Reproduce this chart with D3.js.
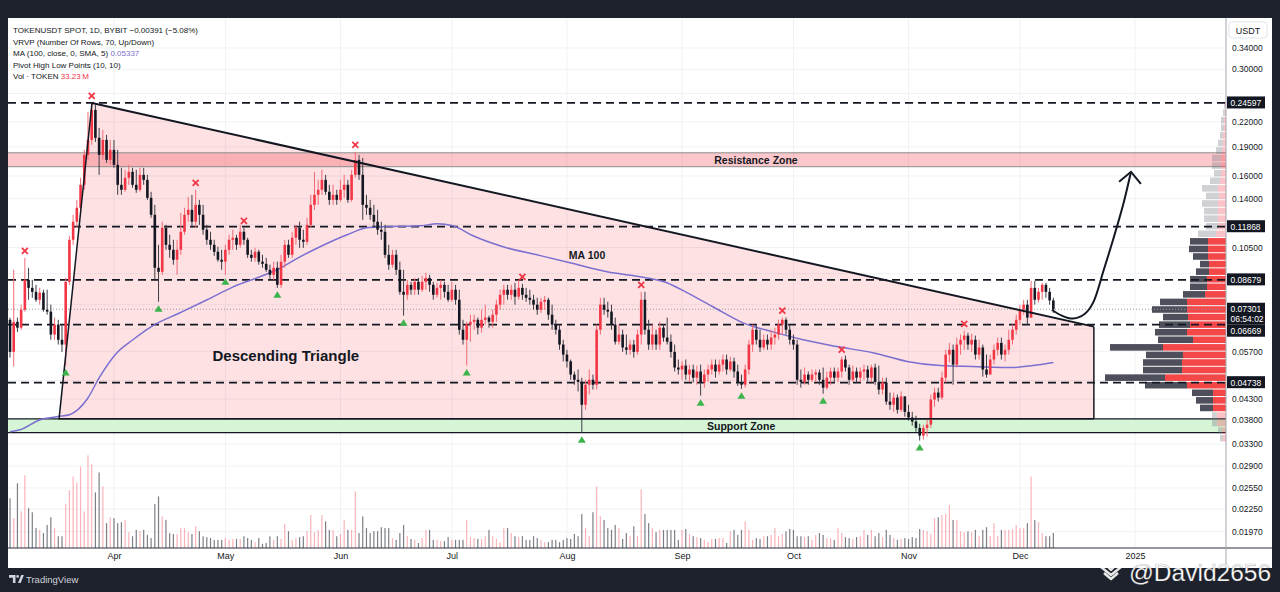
<!DOCTYPE html>
<html>
<head>
<meta charset="utf-8">
<script src="https://cdn.jsdelivr.net/npm/d3@7"></script>
<style>
  html, body { margin: 0; padding: 0; background: #1e222d; }
  svg { display: block; }
  text { font-family: "Liberation Sans", Arial, sans-serif; }
</style>
</head>
<body>
<svg id="chart" width="1280" height="592"></svg>
<script>
// ---- data (one candle per day from 2024-03-04) ----
const firstDay = "2024-03-04T00:00:00Z";
const firstOpen = 0.0686;

const closes = [
  .0568, .0678, .0655, .0728, .0868, .0828, .0809, .0772, .0805, .0728,
  .0720, .0629, .0667, .0610, .0593, .0858, .1099, .1222, .1327, .1519,
  .1812, .1979, .2361, .2003, .1812, .1979, .1759, .1866, .1709, .1519,
  .1475, .1583, .1640, .1519, .1475, .1611, .1564, .1407, .1273, .0932,
  .0910, .1179, .1067, .1036, .0977, .1036, .1152, .1273, .1311, .1222,
  .1350, .1273, .1166, .1099, .1067, .1024, .0977, .0966, .1036, .1099,
  .1112, .1067, .1152, .1099, .1006, .0988, .1024, .0966, .0954, .0921,
  .0894, .0932, .0843, .0966, .1067, .1006, .1112, .1179, .1099, .1086,
  .1200, .1350, .1432, .1475, .1564, .1458, .1390, .1432, .1390, .1475,
  .1519, .1390, .1611, .1759, .1611, .1350, .1327, .1273, .1222, .1166,
  .1152, .1006, .0949, .1006, .0921, .0809, .0795, .0843, .0819, .0858,
  .0819, .0858, .0878, .0843, .0795, .0828, .0843, .0809, .0772, .0819,
  .0772, .0647, .0610, .0667, .0678, .0686, .0655, .0686, .0695, .0678,
  .0707, .0750, .0795, .0819, .0795, .0819, .0786, .0828, .0795, .0781,
  .0772, .0750, .0728, .0763, .0772, .0707, .0667, .0647, .0593, .0559,
  .0537, .0497, .0482, .0476, .0416, .0468, .0482, .0468, .0647, .0750,
  .0728, .0720, .0667, .0603, .0629, .0583, .0575, .0593, .0568, .0629,
  .0772, .0647, .0593, .0629, .0593, .0655, .0618, .0603, .0568, .0518,
  .0512, .0524, .0497, .0512, .0488, .0506, .0474, .0497, .0512, .0527,
  .0506, .0527, .0543, .0512, .0537, .0506, .0474, .0468, .0512, .0593,
  .0647, .0610, .0583, .0610, .0593, .0618, .0629, .0667, .0686, .0647,
  .0610, .0593, .0482, .0476, .0497, .0482, .0497, .0503, .0482, .0460,
  .0488, .0506, .0488, .0506, .0543, .0518, .0482, .0506, .0488, .0506,
  .0512, .0488, .0518, .0476, .0455, .0474, .0424, .0416, .0434, .0404,
  .0437, .0399, .0386, .0377, .0363, .0347, .0363, .0370, .0429, .0447,
  .0434, .0488, .0559, .0575, .0527, .0593, .0610, .0625, .0593, .0610,
  .0559, .0583, .0512, .0497, .0543, .0575, .0599, .0559, .0575, .0610,
  .0647, .0686, .0728, .0750, .0695, .0828, .0772, .0809, .0843, .0809,
  .07692, .07301
];

const highs = [
  .0695, .0921, .0695, .0750, .0988, .0932, .0868, .0843, .0828, .0819,
  .0819, .0750, .0695, .0686, .0667, .0878, .1125, .1273, .1390, .1583,
  .1866, .2333, .24597, .2431, .2124, .2099, .2038, .1979, .1979, .1866,
  .1679, .1659, .1709, .1679, .1659, .1679, .1679, .1611, .1458, .1350,
  .1067, .1222, .1200, .1132, .1099, .1099, .1288, .1327, .1415, .1432,
  .1475, .1390, .1350, .1200, .1152, .1099, .1055, .1036, .1067, .1132,
  .1166, .1132, .1200, .1179, .1112, .1036, .1048, .1036, .1006, .0988,
  .0949, .0966, .0966, .1006, .1099, .1099, .1152, .1200, .1222, .1166,
  .1251, .1432, .1640, .1564, .1659, .1611, .1519, .1519, .1475, .1564,
  .1611, .1564, .1659, .1844, .1812, .1780, .1432, .1390, .1350, .1311,
  .1222, .1200, .1067, .1036, .1036, .0966, .0921, .0868, .0858, .0878,
  .0878, .0889, .0905, .0894, .0858, .0853, .0868, .0858, .0843, .0858,
  .0843, .0819, .0686, .0678, .0707, .0707, .0695, .0728, .0750, .0703,
  .0728, .0772, .0819, .0843, .0843, .0843, .0853, .0868, .0848, .0828,
  .0819, .0795, .0781, .0781, .0790, .0781, .0750, .0686, .0667, .0610,
  .0575, .0543, .0506, .0512, .0488, .0482, .0512, .0497, .0667, .0781,
  .0781, .0763, .0750, .0695, .0667, .0647, .0629, .0610, .0610, .0647,
  .0809, .0809, .0686, .0667, .0647, .0678, .0667, .0695, .0629, .0593,
  .0543, .0537, .0543, .0527, .0527, .0524, .0527, .0512, .0527, .0543,
  .0543, .0543, .0559, .0559, .0552, .0549, .0527, .0497, .0527, .0610,
  .0667, .0663, .0647, .0629, .0629, .0647, .0655, .0686, .0695, .0695,
  .0667, .0629, .0610, .0512, .0518, .0506, .0512, .0512, .0512, .0518,
  .0506, .0518, .0518, .0518, .0552, .0556, .0527, .0524, .0518, .0518,
  .0527, .0524, .0527, .0530, .0524, .0488, .0488, .0447, .0447, .0442,
  .0450, .0437, .0416, .0399, .0390, .0372, .0370, .0381, .0442, .0460,
  .0460, .0506, .0575, .0599, .0593, .0618, .0629, .0643, .0636, .0632,
  .0625, .0610, .0593, .0559, .0559, .0593, .0618, .0618, .0593, .0647,
  .0667, .0707, .0750, .0772, .0772, .0863, .0863, .0828, .0853, .0853,
  .0828, .0781
];

const lows = [
  .0549, .0521, .0639, .0647, .0720, .0772, .0781, .0763, .0750, .0720,
  .0707, .0610, .0610, .0593, .0568, .0524, .0843, .1067, .1179, .1281,
  .1475, .1759, .1922, .1956, .1611, .1759, .1728, .1709, .1679, .1432,
  .1432, .1458, .1519, .1493, .1449, .1458, .1519, .1390, .1251, .0868,
  .0763, .0894, .1036, .0988, .0949, .0894, .1006, .1132, .1222, .1179,
  .1179, .1200, .1132, .1067, .1036, .1000, .0966, .0921, .0894, .1006,
  .1036, .1036, .1048, .1067, .0988, .0966, .0966, .0949, .0932, .0910,
  .0868, .0868, .0828, .0828, .0932, .0988, .0988, .1067, .1048, .1048,
  .1067, .1179, .1311, .1350, .1432, .1432, .1350, .1350, .1350, .1374,
  .1407, .1366, .1374, .1583, .1564, .1236, .1273, .1236, .1179, .1132,
  .1099, .0988, .0921, .0932, .0894, .0795, .0703, .0772, .0795, .0795,
  .0795, .0809, .0819, .0809, .0772, .0781, .0772, .0781, .0763, .0763,
  .0750, .0629, .0593, .0524, .0603, .0647, .0629, .0636, .0667, .0655,
  .0655, .0678, .0728, .0750, .0772, .0772, .0750, .0772, .0772, .0763,
  .0750, .0728, .0707, .0715, .0728, .0686, .0647, .0629, .0575, .0537,
  .0518, .0482, .0468, .0450, .0353, .0404, .0442, .0455, .0455, .0629,
  .0707, .0695, .0647, .0593, .0593, .0568, .0559, .0559, .0549, .0559,
  .0593, .0629, .0575, .0575, .0575, .0575, .0603, .0593, .0549, .0506,
  .0497, .0482, .0482, .0476, .0474, .0468, .0439, .0460, .0476, .0497,
  .0488, .0497, .0506, .0497, .0506, .0488, .0465, .0457, .0460, .0497,
  .0568, .0593, .0568, .0575, .0575, .0575, .0593, .0610, .0629, .0629,
  .0593, .0575, .0468, .0460, .0468, .0468, .0476, .0476, .0468, .0444,
  .0455, .0468, .0476, .0476, .0488, .0506, .0468, .0476, .0474, .0476,
  .0482, .0474, .0476, .0468, .0442, .0442, .0416, .0404, .0399, .0395,
  .0399, .0388, .0379, .0368, .0355, .0337, .0339, .0345, .0363, .0411,
  .0424, .0429, .0474, .0534, .0468, .0518, .0559, .0575, .0575, .0568,
  .0543, .0543, .0491, .0488, .0497, .0527, .0556, .0543, .0537, .0559,
  .0593, .0629, .0667, .0707, .0667, .0695, .0750, .0759, .0772, .0781,
  .0750, .0715
];

// volume, millions of TOKEN
const volumes = [
  110, 66, 143, 81, 161, 88, 79, 44, 40, 33,
  51, 68, 44, 26, 26, 97, 128, 158, 145, 180,
  81, 205, 185, 123, 167, 136, 55, 68, 66, 55,
  57, 62, 35, 26, 40, 37, 40, 29, 22, 97,
  114, 70, 62, 33, 31, 31, 44, 44, 35, 31,
  48, 37, 26, 24, 22, 18, 18, 18, 22, 18,
  20, 20, 20, 26, 22, 18, 13, 22, 9, 11,
  26, 18, 26, 20, 53, 37, 18, 22, 24, 26,
  37, 73, 35, 40, 73, 59, 40, 40, 26, 31,
  62, 40, 40, 125, 33, 70, 44, 33, 37, 37,
  46, 44, 44, 22, 18, 33, 51, 26, 20, 18,
  11, 22, 40, 40, 18, 18, 15, 15, 24, 18,
  18, 18, 18, 62, 24, 22, 20, 20, 26, 40,
  26, 20, 13, 44, 44, 33, 26, 24, 26, 18,
  18, 26, 22, 18, 13, 13, 18, 18, 13, 18,
  22, 20, 31, 26, 75, 44, 26, 79, 136, 70,
  62, 44, 40, 51, 44, 20, 33, 26, 48, 26,
  130, 75, 55, 44, 35, 40, 40, 40, 40, 40,
  18, 40, 42, 31, 26, 24, 22, 18, 13, 20,
  20, 22, 22, 11, 37, 40, 29, 40, 59, 40,
  18, 22, 20, 26, 26, 29, 44, 26, 31, 37,
  42, 40, 26, 26, 24, 26, 18, 29, 33, 29,
  22, 22, 18, 44, 33, 24, 22, 20, 24, 26,
  40, 29, 40, 26, 33, 24, 40, 29, 22, 18,
  20, 22, 20, 24, 22, 42, 40, 37, 31, 66,
  68, 73, 75, 95, 62, 62, 37, 35, 37, 35,
  40, 26, 40, 46, 26, 55, 26, 40, 40, 40,
  42, 51, 44, 44, 55, 158, 62, 57, 33, 26,
  26, 33.23
];

// MA(100) read at points along the line: day offset from firstDay, value
const maDays = [0, 2.7, 8.1, 12.9, 16.2, 20.7, 24.2, 28.8, 33.1, 38.5, 45.8, 53.1, 60.1, 67.3, 71.9,
  78.1, 83.5, 90.8, 96.1, 100.5, 110.4, 115, 119.3, 124.7, 132.8, 141.9, 150.8, 160.8, 171.6, 176.9,
  182.3, 189.3, 197.4, 205.5, 213.6, 222.7, 232.4, 241.6, 250.5, 259.4, 270.1, 275.5, 281];
const maValues = [.0355, .0359, .0381, .0388, .0393, .0429, .0491, .0565, .0610, .0663, .0715, .0772, .0833, .0884, .0921,
  .0994, .1055, .1132, .1179, .1186, .1193, .1207, .1193, .1125, .1055, .1006, .0960, .0910, .0878, .0853,
  .0805, .0741, .0674, .0639, .0610, .0586, .0565, .0537, .0524, .0521, .0518, .0524, .05337];

// pivot high / low candles (index into the daily arrays)
const pivotHighIdx = [4, 22, 50, 63, 93, 138, 170, 208, 224, 257];
const pivotLowIdx = [15, 40, 58, 72, 106, 123, 154, 186, 197, 219, 245];

// visible range volume profile, 70 rows over the pane, bottom row first
const profileUp = [
  0, 0, 0, 0, 0, 0, 0, 0, 0, 0,
  0, 0, 0, 0, 3, 4, 9, 9, 13, 13,
  13, 39, 61, 44, 44, 43, 63, 33, 39, 36,
  38, 39, 39, 21, 19, 19, 17, 17, 18, 18,
  18, 10, 8, 8, 8, 8, 7, 8, 6, 5,
  5, 5, 4, 3, 3, 2, 2, 1, 1, 0,
  0, 0, 0, 0, 0, 0, 0, 0, 0, 0
];
const profileDown = [
  0, 0, 0, 0, 0, 0, 0, 0, 0, 0,
  0, 0, 0, 0, 3, 4, 5, 5, 13, 17,
  21, 42, 60, 39, 39, 37, 53, 35, 32, 31,
  25, 35, 27, 22, 17, 17, 13, 9, 15, 19,
  18, 18, 12, 14, 14, 16, 13, 16, 10, 7,
  9, 9, 6, 5, 3, 3, 3, 2, 1, 0,
  0, 0, 0, 0, 0, 0, 0, 0, 0, 0
];
const valueAreaRows = [18, 40];

const levels = [0.24597, 0.11868, 0.08679, 0.06669, 0.04738];
const lastPrice = 0.07301;
const countdown = "06:54:02";
const priceTicks = [0.34, 0.30, 0.26, 0.22, 0.19, 0.16, 0.14, 0.12, 0.105, 0.09, 0.075, 0.065,
  0.057, 0.048, 0.043, 0.038, 0.033, 0.029, 0.0255, 0.0225, 0.0197];

const resistanceZone = [0.1690, 0.1834];
const supportZone = [0.0353, 0.0383];
const triangle = [["2024-03-17T05:00:00Z", 0.0383], ["2024-03-26T02:00:00Z", 0.24597],
  ["2024-12-20T22:00:00Z", 0.0659], ["2024-12-20T22:00:00Z", 0.0383]];

const arrowPath = [["2024-12-09T14:00:00Z", .0728], ["2024-12-12T07:00:00Z", .0703], ["2024-12-15T07:00:00Z", .0691],
  ["2024-12-18T12:00:00Z", .0711], ["2024-12-20T17:00:00Z", .0759], ["2024-12-23T14:00:00Z", .0921],
  ["2024-12-26T02:00:00Z", .1099], ["2024-12-28T19:00:00Z", .1350], ["2024-12-30T22:00:00Z", .1640]];
const arrowHead = [["2024-12-27T17:00:00Z", .1546], ["2024-12-30T22:00:00Z", .1640], ["2025-01-02T14:00:00Z", .1528]];

const notes = [
  {text: "Descending Triangle", at: ["2024-05-17T07:00:00Z", .0556], size: 15},
  {text: "MA 100", at: ["2024-08-06T10:00:00Z", .1006], size: 10.5},
  {text: "Resistance Zone", at: ["2024-09-20T22:00:00Z", Math.sqrt(resistanceZone[0] * resistanceZone[1])], size: 10.5},
  {text: "Support Zone", at: ["2024-09-16T22:00:00Z", Math.sqrt(supportZone[0] * supportZone[1])], size: 10.5}
];

const legendLines = [
  [["TOKENUSDT SPOT, 1D, BYBIT  \u22120.00391 (\u22125.08%)"]],
  [["VRVP (Number Of Rows, 70, Up/Down)"]],
  [["MA (100, close, 0, SMA, 5) "], ["0.05337", "#7b6fd0"]],
  [["Pivot High Low Points (10, 10)"]],
  [["Vol \u00b7 TOKEN  "], ["33.23", "#f23645"], ["\u2009M", "#f23645"]]
];

// ---- layout ----
const W = 1280, H = 592;
const pane = {left: 8, top: 18, right: 1226, bottom: 548};
const axisRight = 1272, axisBottom = 568;
const DAY = 864e5;
const UP = "#f23645", DOWN = "#131722";

const svg = d3.select("#chart");
const x = d3.scaleUtc()
  .domain([new Date("2024-03-03T11:00:00Z"), new Date("2025-01-25T12:00:00Z")])
  .range([pane.left, pane.right]);
const y = d3.scaleLog().domain([0.0179, 0.4056]).range([pane.bottom, pane.top]);
const yVol = d3.scaleLinear().domain([0, 210]).range([pane.bottom, pane.bottom - 95]);
const pt = d => [x(new Date(d[0])), y(d[1])];

const start = new Date(firstDay);
const candles = closes.map((c, i) => ({
  t: new Date(start.getTime() + i * DAY),
  o: i === 0 ? firstOpen : closes[i - 1],
  h: highs[i], l: lows[i], c: c, v: volumes[i]
}));

svg.append("rect").attr("width", W).attr("height", H).attr("fill", "#1e222d");
svg.append("rect").attr("x", pane.left).attr("y", pane.top)
  .attr("width", axisRight - pane.left).attr("height", axisBottom - pane.top).attr("fill", "#fff");

svg.append("clipPath").attr("id", "plot").append("rect")
  .attr("x", pane.left).attr("y", pane.top)
  .attr("width", pane.right - pane.left).attr("height", pane.bottom - pane.top);
const plot = svg.append("g").attr("clip-path", "url(#plot)");

// grid
const months = d3.utcMonth.range(new Date("2024-04-01T00:00:00Z"), new Date("2025-01-02T00:00:00Z"));
plot.append("g").selectAll("line").data(months).join("line")
  .attr("x1", d => x(d)).attr("x2", d => x(d)).attr("y1", pane.top).attr("y2", pane.bottom)
  .attr("stroke", "#f0f2f6");
plot.append("g").selectAll("line").data(priceTicks).join("line")
  .attr("x1", pane.left).attr("x2", pane.right).attr("y1", d => y(d)).attr("y2", d => y(d))
  .attr("stroke", "#f0f2f6");

// zones and triangle
plot.append("rect").attr("x", pane.left).attr("width", pane.right - pane.left)
  .attr("y", y(resistanceZone[1])).attr("height", y(resistanceZone[0]) - y(resistanceZone[1]))
  .attr("fill", "rgba(242,54,69,0.28)");
plot.append("rect").attr("x", pane.left).attr("width", pane.right - pane.left)
  .attr("y", y(supportZone[1])).attr("height", y(supportZone[0]) - y(supportZone[1]))
  .attr("fill", "#d6f4d6");
plot.append("path").attr("d", d3.line()(triangle.map(pt)) + "Z")
  .attr("fill", "rgba(242,54,69,0.15)");
[resistanceZone[0], resistanceZone[1]].forEach(v => plot.append("line")
  .attr("x1", pane.left).attr("x2", pane.right).attr("y1", y(v)).attr("y2", y(v))
  .attr("stroke", "#8c8c8c").attr("stroke-width", 1));
[supportZone[0], supportZone[1]].forEach(v => plot.append("line")
  .attr("x1", pane.left).attr("x2", pane.right).attr("y1", y(v)).attr("y2", y(v))
  .attr("stroke", "#131722").attr("stroke-width", 1.3));

// volume
plot.append("g").selectAll("rect").data(candles).join("rect")
  .attr("x", d => x(d.t) - 0.6).attr("width", 1.2)
  .attr("y", d => yVol(d.v)).attr("height", d => pane.bottom - yVol(d.v))
  .attr("fill", d => d.c >= d.o ? "rgba(242,54,69,0.38)" : "rgba(70,73,84,0.7)");

// volume profile
const lnLo = Math.log(y.domain()[0]), lnHi = Math.log(y.domain()[1]);
const rowStep = (lnHi - lnLo) / profileUp.length;
const wScale = d3.scaleLinear().domain([0, 121]).range([0, 121]);
const rows = profileUp.map((u, i) => ({
  i, up: u, down: profileDown[i],
  top: y(Math.exp(lnLo + (i + 1) * rowStep)), bot: y(Math.exp(lnLo + i * rowStep)),
  inVA: i >= valueAreaRows[0] && i <= valueAreaRows[1]
})).filter(r => r.up + r.down > 0);
const vp = plot.append("g");
vp.selectAll("rect.up").data(rows).join("rect").attr("class", "up")
  .attr("x", r => pane.right - wScale(r.up)).attr("width", r => wScale(r.up))
  .attr("y", r => r.top + 0.5).attr("height", r => r.bot - r.top - 1)
  .attr("fill", r => r.inVA ? "#f44848" : "rgba(242,54,69,0.3)");
vp.selectAll("rect.down").data(rows).join("rect").attr("class", "down")
  .attr("x", r => pane.right - wScale(r.up + r.down)).attr("width", r => wScale(r.down))
  .attr("y", r => r.top + 0.5).attr("height", r => r.bot - r.top - 1)
  .attr("fill", r => r.inVA ? "#4d505b" : "rgba(120,123,134,0.35)");

// horizontal levels
plot.append("g").selectAll("line").data(levels).join("line")
  .attr("x1", pane.left).attr("x2", pane.right).attr("y1", d => y(d)).attr("y2", d => y(d))
  .attr("stroke", "#131722").attr("stroke-width", 1.8).attr("stroke-dasharray", "8 5");
plot.append("line").attr("x1", pane.left).attr("x2", pane.right)
  .attr("y1", y(lastPrice)).attr("y2", y(lastPrice))
  .attr("stroke", "#9598a1").attr("stroke-dasharray", "1 2");

// moving average
plot.append("path")
  .attr("d", d3.line().curve(d3.curveMonotoneX)
    .x((d, i) => x(new Date(start.getTime() + maDays[i] * DAY))).y(d => y(d))(maValues))
  .attr("fill", "none").attr("stroke", "#7b6fd0").attr("stroke-width", 1.5);

// candles
const cg = plot.append("g");
cg.selectAll("line").data(candles).join("line")
  .attr("x1", d => x(d.t)).attr("x2", d => x(d.t))
  .attr("y1", d => y(Math.max(d.h, d.o, d.c))).attr("y2", d => y(Math.min(d.l, d.o, d.c)))
  .attr("stroke", d => d.c >= d.o ? "#f26a74" : "#3b3e48").attr("stroke-width", 1);
cg.selectAll("rect").data(candles).join("rect")
  .attr("x", d => x(d.t) - 1.3).attr("width", 2.6)
  .attr("y", d => y(Math.max(d.o, d.c)))
  .attr("height", d => Math.max(1, y(Math.min(d.o, d.c)) - y(Math.max(d.o, d.c))))
  .attr("fill", d => d.c >= d.o ? UP : DOWN);

// triangle outline
const tri = triangle.map(pt);
plot.append("path").attr("d", d3.line()([tri[3], tri[0], tri[1]]))
  .attr("fill", "none").attr("stroke", "#131722").attr("stroke-width", 1.5);
plot.append("path").attr("d", d3.line()([tri[1], tri[2]]))
  .attr("fill", "none").attr("stroke", "#131722").attr("stroke-width", 2);
plot.append("path").attr("d", d3.line()([tri[2], tri[3]]))
  .attr("fill", "none").attr("stroke", "#131722").attr("stroke-width", 1.5);

// pivots
const pivH = plot.append("g");
pivotHighIdx.forEach(i => {
  const cx = x(candles[i].t), cy = y(candles[i].h) - 7;
  pivH.append("path").attr("d", `M${cx - 3},${cy - 3}L${cx + 3},${cy + 3}M${cx - 3},${cy + 3}L${cx + 3},${cy - 3}`)
    .attr("stroke", UP).attr("stroke-width", 1.8);
});
pivotLowIdx.forEach(i => {
  const cx = x(candles[i].t), cy = y(candles[i].l) + 7;
  pivH.append("path").attr("d", `M${cx},${cy - 3.5}L${cx + 4},${cy + 3}L${cx - 4},${cy + 3}Z`)
    .attr("fill", "#3cb44b");
});

// arrow
plot.append("path").attr("d", d3.line().curve(d3.curveCatmullRom)(arrowPath.map(pt)))
  .attr("fill", "none").attr("stroke", "#131722").attr("stroke-width", 2);
plot.append("path").attr("d", d3.line()(arrowHead.map(pt)))
  .attr("fill", "none").attr("stroke", "#131722").attr("stroke-width", 2);

// notes
notes.forEach(n => {
  const [nx, ny] = pt(n.at);
  plot.append("text").attr("x", nx).attr("y", ny).attr("text-anchor", "middle")
    .attr("dominant-baseline", "central").attr("font-weight", "bold")
    .attr("font-size", n.size).attr("fill", "#131722").text(n.text);
});

// legend
legendLines.forEach((line, k) => {
  const t = svg.append("text").attr("x", 13).attr("y", 30 + k * 11.6)
    .attr("dominant-baseline", "central").attr("font-size", 8).attr("fill", "#131722");
  line.forEach(([s, c]) => t.append("tspan").attr("fill", c || "#131722").text(s));
});

// axes
svg.append("line").attr("x1", pane.left).attr("x2", axisRight).attr("y1", pane.bottom).attr("y2", pane.bottom)
  .attr("stroke", "#2a2e39");
svg.append("line").attr("x1", pane.right).attr("x2", pane.right).attr("y1", pane.top).attr("y2", axisBottom)
  .attr("stroke", "#a3a6af");

// price tags on the axis (levels + last price), stacked so they do not collide
const tags = levels.map(v => ({v, lines: [d3.format(".5f")(v)]}))
  .concat([{v: lastPrice, lines: [d3.format(".5f")(lastPrice), countdown]}])
  .sort((a, b) => b.v - a.v);
let prevBottom = -Infinity;
tags.forEach(tg => {
  tg.h = tg.lines.length > 1 ? 22 : 12;
  tg.top = Math.max(y(tg.v) - 6.5, prevBottom);
  prevBottom = tg.top + tg.h;
});
const covered = v => tags.some(tg => y(v) > tg.top - 5 && y(v) < tg.top + tg.h + 5);

const yAxis = svg.append("g").attr("transform", `translate(${pane.right},0)`)
  .call(d3.axisRight(y).tickValues(priceTicks.filter(v => !covered(v)))
    .tickFormat(d3.format(".5f")).tickSize(0).tickPadding(6));
yAxis.select(".domain").remove();
yAxis.selectAll("text").attr("font-size", 8.5).attr("fill", "#131722")
  .attr("font-family", "Liberation Sans, Arial, sans-serif");

const xAxis = svg.append("g").attr("transform", `translate(0,${pane.bottom})`)
  .call(d3.axisBottom(x).tickValues(months)
    .tickFormat(d => d.getUTCMonth() === 0 ? d3.utcFormat("%Y")(d) : d3.utcFormat("%b")(d))
    .tickSize(0).tickPadding(5));
xAxis.select(".domain").remove();
xAxis.selectAll("text").attr("font-size", 9).attr("fill", "#131722")
  .attr("font-family", "Liberation Sans, Arial, sans-serif");

tags.forEach(tg => {
  svg.append("rect").attr("x", 1227).attr("y", tg.top).attr("width", 38).attr("height", tg.h)
    .attr("fill", "#131722");
  tg.lines.forEach((s, j) => svg.append("text").attr("x", 1230.5).attr("y", tg.top + 6.5 + j * 10)
    .attr("dominant-baseline", "central").attr("font-size", 8.5).attr("fill", "#fff").text(s));
});

// currency badge
svg.append("rect").attr("x", 1229).attr("y", 22).attr("width", 38).attr("height", 16).attr("rx", 3)
  .attr("fill", "#fff").attr("stroke", "#e0e3eb");
svg.append("text").attr("x", 1248).attr("y", 30.5).attr("text-anchor", "middle")
  .attr("dominant-baseline", "central").attr("font-size", 9).attr("fill", "#131722").text("USDT");

// footer: TradingView mark and watermark
svg.append("path").attr("d", "M9,575h6.5v8h-2.6v-5.2h-3.9z").attr("fill", "#d1d4dc");
svg.append("circle").attr("cx", 17.6).attr("cy", 576.4).attr("r", 1.3).attr("fill", "#d1d4dc");
svg.append("path").attr("d", "M18,583l3.2,-8h2.7l-3.2,8z").attr("fill", "#d1d4dc");
svg.append("text").attr("x", 26).attr("y", 579.5).attr("dominant-baseline", "central")
  .attr("font-size", 9.5).attr("fill", "#d1d4dc").text("TradingView");

const wm = svg.append("g");
wm.append("path").attr("d", "M1111,560l5,5l-5,5l-5,-5z M1101,567l10,8l10,-8 M1104,573l7,6l7,-6")
  .attr("fill", "none").attr("stroke", "#fff").attr("stroke-width", 2.4).attr("stroke-linejoin", "round")
  .attr("opacity", 0.9);
wm.append("text").attr("x", 1129).attr("y", 581).attr("font-size", 24.5)
  .attr("fill", "#ffffff").attr("stroke", "rgba(60,60,60,0.35)").attr("stroke-width", 0.7)
  .text("@David2656");
</script>
</body>
</html>
